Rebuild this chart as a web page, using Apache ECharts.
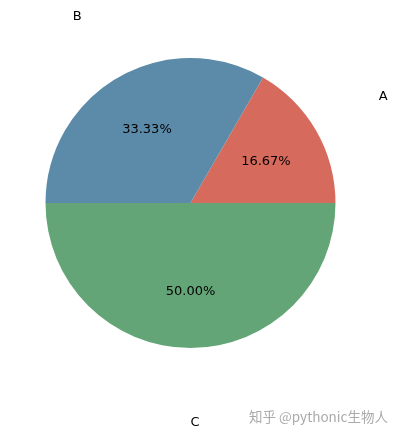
<!DOCTYPE html>
<html><head><meta charset="utf-8">
<script src="https://cdn.jsdelivr.net/npm/echarts@6/dist/echarts.min.js"></script>
<style>html,body{margin:0;padding:0;background:#fff}#c{width:397px;height:438px}</style>
</head><body><div id="c"></div>
<script>
const categories = ['A', 'B', 'C'];
const values = [1, 2, 3];
const colors = ['#d66a5c', '#5c8ba9', '#64a577'];
const nameAlign = ['left', 'right', 'left'];
const watermark = '知乎 @pythonic生物人';

const cx = 190.5, cy = 203, R = 145;
const font = 'DejaVu Sans';
const baseData = categories.map((n, i) => ({ name: n, value: values[i] }));

const chart = echarts.init(document.getElementById('c'), null, { renderer: 'canvas' });
chart.setOption({
  animation: false,
  backgroundColor: '#fff',
  series: [
    {
      type: 'pie', center: [cx, cy], radius: [0, R],
      startAngle: 0, clockwise: false, silent: true,
      avoidLabelOverlap: false,
      label: { show: true, position: 'outside', color: '#000', fontFamily: font, fontSize: 13,
        formatter: p => p.name, distanceToLabelLine: 0 },
      labelLine: { show: false, length: R * 0.5, length2: 0 },
      labelLayout: p => ({ dy: 2, align: nameAlign[p.dataIndex] }),
      itemStyle: { borderWidth: 0 },
      data: baseData.map((d, i) => ({ ...d, itemStyle: { color: colors[i] } }))
    },
    {
      type: 'pie', center: [cx, cy], radius: [0, R * 1.16],
      startAngle: 0, clockwise: false, silent: true, z: 3,
      itemStyle: { color: 'transparent', borderWidth: 0 },
      label: { show: true, position: 'inside', color: '#000', fontFamily: font, fontSize: 13,
        formatter: p => p.percent.toFixed(2) + '%' },
      labelLayout: () => ({ dy: 2 }),
      labelLine: { show: false },
      data: baseData
    }
  ],
  graphic: [{
    type: 'text', left: 249, top: 410,
    style: { text: watermark, fill: '#aaa', font: '13.5px "Noto Sans CJK SC"' }
  }]
});
</script></body></html>
